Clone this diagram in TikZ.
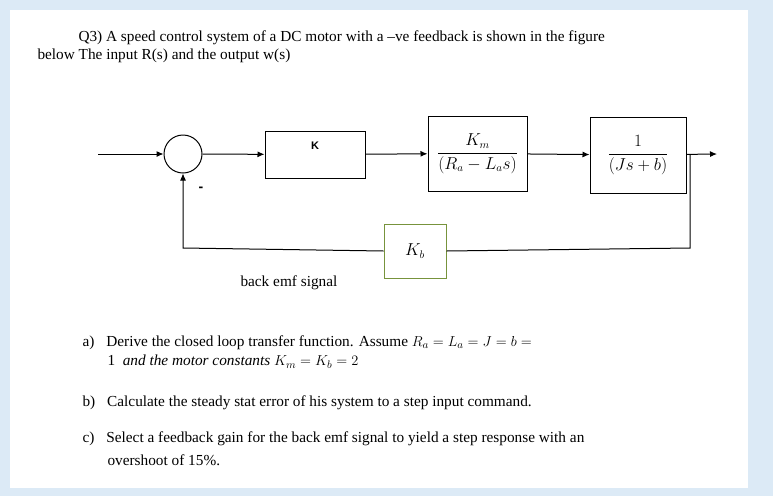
\documentclass[tikz,border=0pt]{standalone}
\usepackage{amsmath}
\usepackage{fontspec}
\setmainfont{Liberation Serif}
\newfontfamily\sans{Liberation Sans}
\usetikzlibrary{arrows.meta}
\definecolor{frame}{HTML}{DCEAF6}
\definecolor{kbg}{HTML}{77933C}
\begin{document}
\begin{tikzpicture}[x=1pt,y=-1pt,line width=1pt,
  sig/.style={draw,-{Latex[length=7pt,width=6pt]}},
  txt/.style={anchor=west,inner sep=0,font=\fontsize{15.3}{17}\selectfont},
  mth/.style={font=\fontsize{16}{18}\selectfont}]
\useasboundingbox (0,0) rectangle (773,496);
\fill[frame] (0,0) rectangle (773,496);
\fill[white] (10,10) rectangle (748,488);
\node[txt] (t1) at (78,38) {Q3) A speed control system of a DC motor with a --ve feedback is shown in the figure};
\node[txt] (t2) at (37,56) {below The input R(s) and the output w(s)};
\coordinate (in) at (98,154);
\node[draw,circle,minimum size=38pt,inner sep=0] (s) at (183,154) {};
\node[draw,minimum width=100pt,minimum height=47pt,inner sep=0] (k) at (315,154.5) {};
\node[font=\sans\bfseries\fontsize{11}{12}\selectfont] (kl) at (315,146) {K};
\node[draw,minimum width=99pt,minimum height=75pt,inner sep=0,mth] (m) at (477.5,153.5) {$\dfrac{K_m}{(R_a-L_a s)}$};
\node[draw,minimum width=96pt,minimum height=76pt,inner sep=0,mth] (p) at (638,155) {$\dfrac{1}{(Js+b)}$};
\coordinate (out) at (717,154);
\coordinate (br) at (690,154);
\node[draw=kbg,minimum width=62pt,minimum height=54pt,inner sep=0,mth] (kb) at (415,251) {$K_b$};
\coordinate (c1) at (690,248);
\coordinate (c2) at (183,248);
\draw[sig] (in) -- (s);
\draw[sig] (s) -- (k);
\draw[sig] (k) -- (m);
\draw[sig] (m) -- (p);
\draw[sig] (p) -- (out);
\draw (br) -- (c1) -- (kb.east);
\draw[sig] (kb.west) -- (c2) -- (s.south);
\node[font=\sans\bfseries\fontsize{14}{14}\selectfont] (minus) at (201,189) {-};
\node[txt] (be) at (240,283) {back emf signal};
\node[txt] (qa) at (82,343) {a)\hspace{12pt}Derive the closed loop transfer function. Assume $R_a=L_a=J=b=$};
\node[txt] (qa2) at (107,362) {1\enspace \textit{and the motor constants} $K_m=K_b=2$};
\node[txt] (qb) at (82,403) {b)\hspace{12pt}Calculate the steady stat error of his system to a step input command.};
\node[txt] (qc) at (82,439) {c)\hspace{12pt}Select a feedback gain for the back emf signal to yield a step response with an};
\node[txt] (qc2) at (107,460) {overshoot of 15\%.};
\end{tikzpicture}
\end{document}
